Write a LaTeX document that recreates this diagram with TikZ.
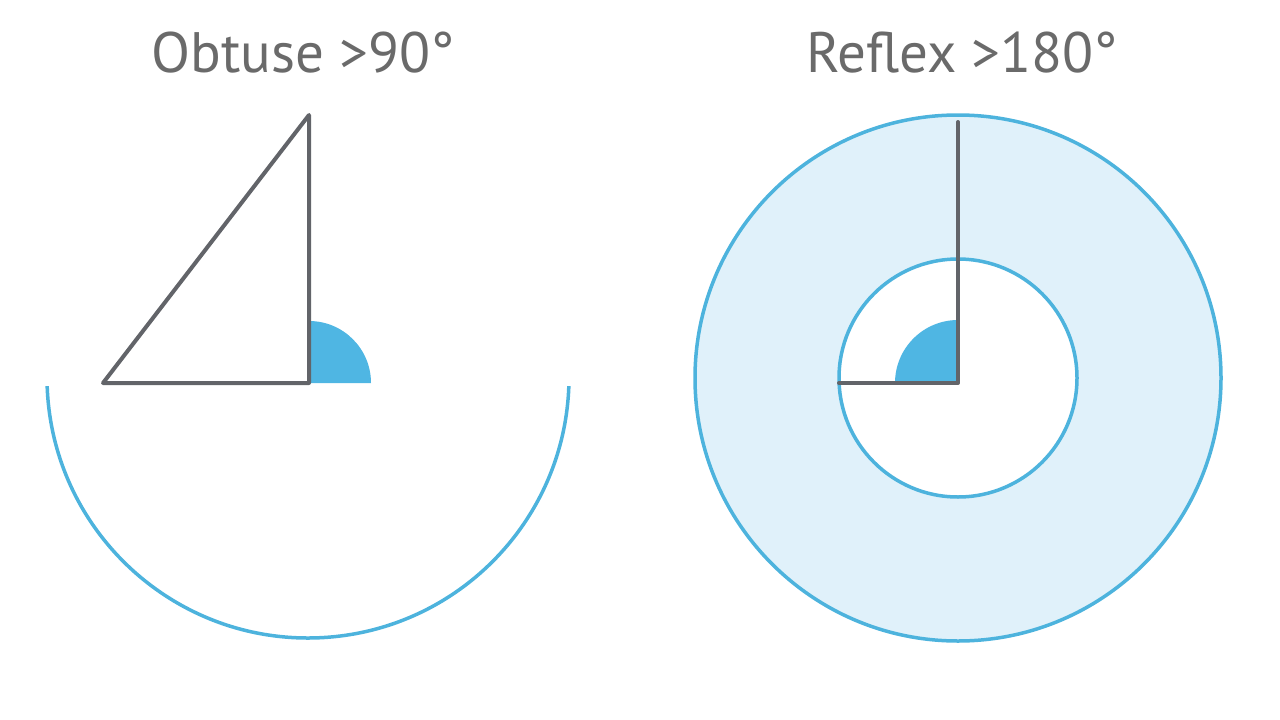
\documentclass[tikz,border=0pt]{standalone}
\usepackage{fontspec}
\setmainfont{PT Sans}
\definecolor{linegray}{HTML}{626469}
\definecolor{arcblue}{HTML}{4DB3DD}
\definecolor{angleblue}{HTML}{4FB6E3}
\definecolor{ringblue}{HTML}{E0F1FA}
\definecolor{titlegray}{HTML}{6A6A6A}
\begin{document}
\begin{tikzpicture}[x=1pt,y=-1pt,
            side/.style={draw=linegray,line width=4pt,line cap=round,line join=round},
            sweep/.style={draw=arcblue,line width=3.5pt},
            wedge/.style={fill=angleblue},
            title/.style={font=\fontsize{57}{68}\selectfont,text=titlegray}]
        \useasboundingbox (0,0) rectangle (1280,720);

        % Define points
        \coordinate (O1) at (309,383);
        \coordinate (A1) at (103,383);
        \coordinate (B1) at (309,115);
        \coordinate (C1) at (308,377);
        \coordinate (O2) at (958,383);
        \coordinate (C2) at (958,378);

        % Titles
        \node[title] (t1) at (303,53) {Obtuse >90°};
        \node[title] (t2) at (962,53) {Reflex >180°};

        % Obtuse
        \draw[sweep] (C1) ++(178:261) arc[start angle=178,end angle=2,radius=261];
        \fill[wedge] (O1) -- ++(62,0) arc[start angle=0,end angle=-90,radius=62] -- cycle;
        \draw[side] (B1) -- (O1) -- (A1) -- cycle;

        % Reflex
        \draw[sweep,fill=ringblue] (C2) circle[radius=263];
        \draw[sweep,fill=white] (C2) circle[radius=119];
        \fill[wedge] (O2) -- ++(-63,0) arc[start angle=180,end angle=270,radius=63] -- cycle;
        \draw[side] (958,122) -- (O2) -- (839,383);

\end{tikzpicture}
\end{document}
